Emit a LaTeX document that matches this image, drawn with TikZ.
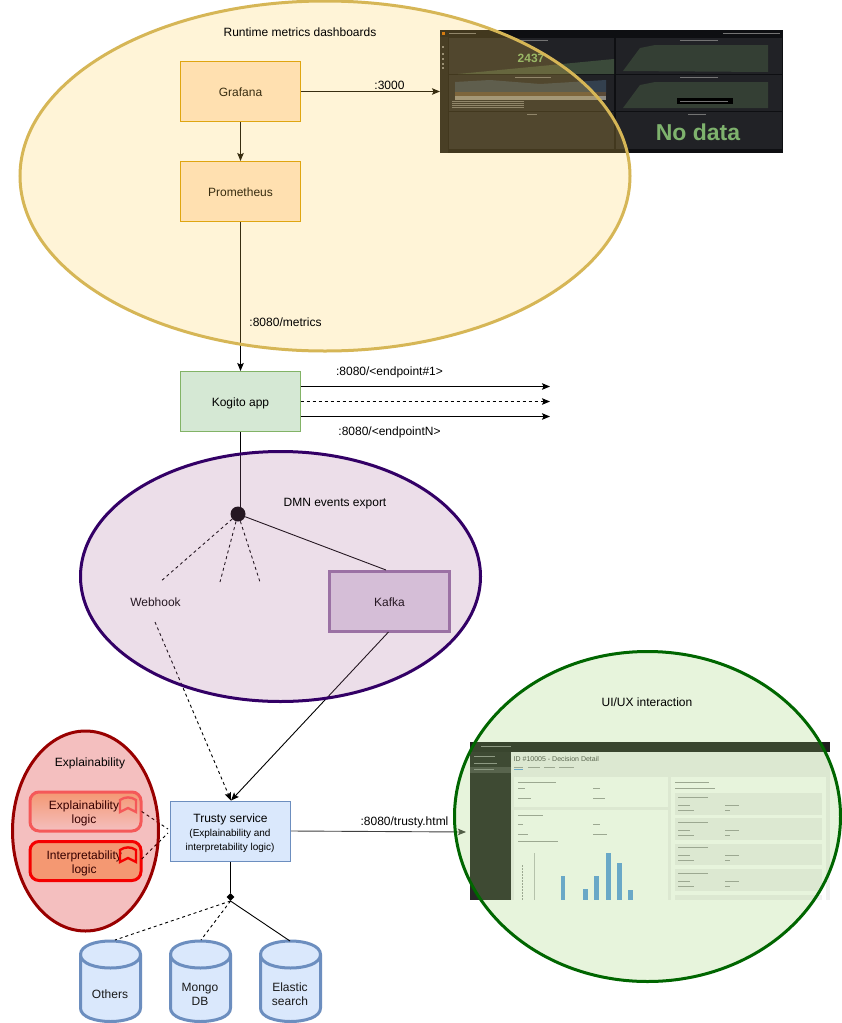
\documentclass[tikz,border=0pt]{standalone}
\usepackage{fontspec}
\setmainfont{Liberation Sans}
\usetikzlibrary{arrows.meta,shapes.geometric,calc}
\definecolor{yfill}{RGB}{255,205,77}
\definecolor{gfill}{RGB}{150,205,100}
\definecolor{pfill}{RGB}{173,109,159}
\definecolor{rfill}{RGB}{212,0,0}
\definecolor{ystroke}{HTML}{D6B656}
\definecolor{orbox}{HTML}{FFE6CC}
\definecolor{orline}{HTML}{D79B00}
\definecolor{grbox}{HTML}{D5E8D4}
\definecolor{grline}{HTML}{82B366}
\definecolor{blbox}{HTML}{DAE8FC}
\definecolor{blline}{HTML}{6C8EBF}
\definecolor{panelbg}{HTML}{212226}
\definecolor{dashbg}{HTML}{0E0F12}
\definecolor{datag}{HTML}{7EB26D}
\definecolor{purpline}{HTML}{330066}
\definecolor{kafbox}{HTML}{E1D5E7}
\definecolor{kafline}{HTML}{9673A6}
\definecolor{redline}{HTML}{990000}
\definecolor{greenline}{HTML}{006600}
\definecolor{softred}{HTML}{FF7878}
\definecolor{orA}{HTML}{FFCC99}
\definecolor{barblue}{HTML}{5E9EE4}
\definecolor{bandblue}{HTML}{33404E}
\definecolor{bandor}{HTML}{5A4A38}
\definecolor{bandlt}{HTML}{8C8A84}
\tikzset{
  lbl/.style={inner sep=0pt,font=\fontsize{12}{14}\selectfont,align=center,text=black},
  svcbox/.style={draw,line width=1pt,minimum width=120pt,minimum height=60pt,inner sep=0pt,font=\fontsize{12}{14}\selectfont,text height=10.5pt,text depth=1.5pt},
  conn/.style={line width=.9pt,draw=black},
  dsh/.style={conn,dash pattern=on 3pt off 3pt},
  arr/.style={-{Stealth[length=8pt,width=6.5pt,inset=1.5pt]}},
  logicbox/.style={rounded corners=9pt,line width=3pt,minimum width=111pt,minimum height=39pt,inner sep=0pt},
  storeshape/.style={draw=blline,fill=blbox,line width=3pt},
  tinyl/.style={line width=.8pt,draw=black!38},
  tinyd/.style={line width=.5pt,draw=black!55},
  book/.style={line width=2.4pt,line join=miter},
}
\begin{document}
\begin{tikzpicture}[x=1pt,y=-1pt]
\useasboundingbox (0,0) rectangle (842,1023);
\fill[white] (0,0) rectangle (842,1023);

% --- Grafana screenshot
\fill[dashbg] (440,30) rectangle (783,153);
\fill[panelbg!70!black] (440,37) rectangle (448,153);
\foreach \yy in {46,53,58,63,67}{\fill[black!50] (442,\yy) rectangle (444,\yy+1.6);}
\fill[orange!80!black] (442,31.5) rectangle (445,34.5);
\draw[tinyd] (449,33.5) -- (476,33.5);
\draw[tinyd] (723,33.5) -- (780,33.5);
\fill[panelbg] (449,38) rectangle (614,74);
\fill[panelbg] (616,38) rectangle (782,74);
\fill[panelbg] (449,75) rectangle (614,111);
\fill[panelbg] (616,75) rectangle (782,111);
\fill[panelbg] (449,112) rectangle (614,149);
\fill[panelbg] (616,112) rectangle (782,149);
\fill[datag!28!panelbg] (458,74) -- (614,59) -- (614,74) -- cycle;
\fill[datag!20!panelbg] (623,71) -- (640,48) -- (655,45) -- (768,45) -- (768,72) -- cycle;
\fill[datag!20!panelbg] (623,108) -- (640,85) -- (655,82) -- (768,82) -- (768,108) -- cycle;
\fill[bandblue] (455,82) -- (490,80) -- (540,84) -- (606,80) -- (606,93) -- (455,93) -- cycle;
\fill[bandor] (455,92) rectangle (606,96);
\fill[bandlt] (455,96) rectangle (606,100);
\foreach \yy in {101,103,105,107}{\draw[tinyd,line width=.4pt] (452,\yy) -- (524,\yy);}
\draw[tinyd,line width=.4pt] (520,40) -- (548,40);
\draw[tinyd,line width=.4pt] (680,40) -- (718,40);
\draw[tinyd,line width=.4pt] (515,77) -- (551,77);
\draw[tinyd,line width=.4pt] (680,77) -- (718,77);
\fill[black] (677,98) rectangle (733,104);
\draw[tinyd,line width=.4pt] (680,101) -- (728,101);
\draw[tinyd,line width=.4pt] (527,114) -- (537,114);
\draw[tinyd,line width=.4pt] (688,114) -- (706,114);
\node[inner sep=0pt,text=datag,font=\bfseries\fontsize{12}{14}\selectfont] (gauge) at (531,58) {2437};
\node[inner sep=0pt,text=datag,font=\bfseries\fontsize{23}{28}\selectfont] (nodata) at (698,132) {No data};

% --- UI screenshot
\fill[black!6] (470,752) rectangle (830,900);
\fill[black!88] (470,742) rectangle (830,752);
\fill[black!85] (470,752) rectangle (511,900);
\fill[black!72] (470,767) rectangle (511,773);
\fill[white] (514,777) rectangle (668,807);
\fill[white] (514,810) rectangle (668,900);
\fill[white] (671,777) rectangle (826,900);
\foreach \ya/\yb in {793/815,818/840,844/865,869/891,895/900}{\fill[black!6] (675,\ya) rectangle (822,\yb);}
\fill[barblue] (560.7,876) rectangle (565,900);
\fill[barblue] (583,889) rectangle (588,900);
\fill[barblue] (594,876) rectangle (599,900);
\fill[barblue] (606,853) rectangle (610.5,900);
\fill[barblue] (617,862.5) rectangle (622,900);
\fill[barblue] (628,890) rectangle (633,900);
\draw[black!25,line width=.6pt] (534,853) -- (534,900);
\node[inner sep=0pt,text=black!70,font=\fontsize{7}{8}\selectfont,anchor=west] (uititle) at (513.5,758.5) {ID \#10005 - Decision Detail};
\draw[tinyl] (514,767) -- (523,767);
\draw[tinyl] (528,767) -- (540,767) (544,767) -- (555,767) (559,767) -- (574,767);
\draw[barblue,line width=.6pt] (514,769.5) -- (523,769.5);
\foreach \x/\w/\y in {518/38/782, 518/7/788, 593/7/788, 518/13/798, 593/12/798, 518/25/815, 518/5/824, 593/7/824, 518/10/834, 593/14/834, 518/40/841, 675/34/782, 675/40/788}
  {\draw[tinyl] (\x,\y) -- ++(\w,0);}
\foreach \y in {797,822,847,873}{
  \draw[tinyl] (678,\y) -- ++(30,0);
  \draw[tinyl] (678,\y+8) -- ++(12,0);
  \draw[tinyl] (725,\y+8) -- ++(14,0);
  \draw[tinyl] (678,\y+13) -- ++(16,0);
  \draw[tinyl] (725,\y+13) -- ++(5,0);
}
\draw[tinyl,dash pattern=on 2pt off 1pt] (522,865) -- (522,900);
\draw[black!45,line width=.7pt] (474,756) -- (495,756) (474,763) -- (497,763) (474,769) -- (494,769);
\draw[black!45,line width=.7pt] (481,746.5) -- (511,746.5);

% --- nodes
\node[svcbox,draw=orline,fill=orbox] (grafana) at (240.5,91.5) {Grafana};
\node[svcbox,draw=orline,fill=orbox] (prometheus) at (240.5,191.5) {Prometheus};
\node[svcbox,draw=grline,fill=grbox] (kogito) at (240.5,401.5) {Kogito app};
\node[svcbox,draw=kafline,fill=kafbox,line width=3pt] (kafka) at (389.5,601.5) {Kafka};
\node[lbl] (webhook) at (155.5,602.5) {Webhook};
\node[circle,fill=black,minimum size=15pt,inner sep=0pt] (hub) at (238,514) {};
\node[svcbox,draw=blline,fill=blbox] (trusty) at (230.5,831) {};
\node[lbl] (trustyA) at (230.5,819) {Trusty service};
\node[lbl,font=\fontsize{10}{14}\selectfont] (trustyB) at (230,840.5) {(Explainability and\\interpretability logic)};
\node[diamond,fill=black,minimum size=8pt,inner sep=0pt] (split) at (230.5,897) {};
\node[logicbox,draw=softred,top color=orA,bottom color=white] (explain) at (85.5,811.5) {};
\node[logicbox,draw=red,fill=orA] (interp) at (85.5,861) {};
\node[lbl] (explainT) at (84,813) {Explainability\\logic};
\node[lbl] (interpT) at (84.2,863) {Interpretability\\logic};
\draw[softred,book] (120,800) .. controls (125,796.5) and (131,796.5) .. (136,800) -- (136,812) -- (128,808) -- (120,812) -- cycle;
\draw[red,book] (120,850) .. controls (125,846.5) and (131,846.5) .. (136,850) -- (136,862) -- (128,858) -- (120,862) -- cycle;

% --- data stores
\foreach \cx in {110.5,200.5,290.5}{
  \draw[storeshape] (\cx-30,954.5) -- (\cx-30,1008) .. controls (\cx-30,1026) and (\cx+30,1026) .. (\cx+30,1008) -- (\cx+30,954.5) .. controls (\cx+30,936.5) and (\cx-30,936.5) .. cycle;
  \draw[storeshape] (\cx-30,954.5) .. controls (\cx-30,972.5) and (\cx+30,972.5) .. (\cx+30,954.5);
}
\node[lbl,text=black!90] (othersT) at (110,994) {Others};
\node[lbl,text=black!90] (mongoT) at (200,994.5) {Mongo\\DB};
\node[lbl,text=black!90] (elasticT) at (290,994.5) {Elastic\\search};

% --- named free ends
\coordinate (shot1) at (440,91.5);
\coordinate (ep1) at (550,386.5);
\coordinate (ep2) at (550,401.5);
\coordinate (ep3) at (550,416.5);
\coordinate (k1) at (300.5,386.5);
\coordinate (k2) at (300.5,401.5);
\coordinate (k3) at (300.5,416.5);
\coordinate (hubTop) at (240.5,507);
\coordinate (wh1) at (160,582);
\coordinate (wh2) at (220,582);
\coordinate (wh3) at (260,582);
\coordinate (kafIn) at (386,570);
\coordinate (whOut) at (155,622);
\coordinate (kafOut) at (388.5,632);
\coordinate (trustIn) at (231,800.5);
\coordinate (trustL1) at (168,829);
\coordinate (trustL2) at (168,833);
\coordinate (exOut) at (141.7,811.5);
\coordinate (inOut) at (141.7,859);
\coordinate (uiIn) at (466,832);
\coordinate (splitOut) at (230.5,901);
\coordinate (othersIn) at (115,940);
\coordinate (mongoIn) at (201,940);
\coordinate (elasticIn) at (290,941);

% --- connectors
\draw[conn,arr] (grafana.east) -- (shot1);
\draw[conn,arr] (grafana.south) -- (prometheus.north);
\draw[conn,arr] (prometheus.south) -- (kogito.north);
\draw[conn,arr] (k1) -- (ep1);
\draw[dsh,arr] (k2) -- (ep2);
\draw[conn,arr] (k3) -- (ep3);
\draw[conn] (kogito.south) -- (hubTop);
\draw[dsh] (hub) -- (wh1);
\draw[dsh] (hub) -- (wh2);
\draw[dsh] (hub) -- (wh3);
\draw[conn] (hub) -- (kafIn);
\draw[dsh,arr] (whOut) -- (trustIn);
\draw[conn,arr] (kafOut) -- (trustIn);
\draw[conn,black!75,arr] (trusty.east) -- (uiIn);
\draw[conn] (trusty.south) -- (split.north);
\draw[dsh] (exOut) -- (trustL1);
\draw[dsh] (inOut) -- (trustL2);
\draw[dsh] (splitOut) -- (othersIn);
\draw[dsh] (splitOut) -- (mongoIn);
\draw[conn] (splitOut) -- (elasticIn);

% --- translucent ellipses over everything beneath them
\fill[yfill,opacity=.22] (325,176) ellipse [x radius=305,y radius=175];
\draw[ystroke,line width=3pt] (325,176) ellipse [x radius=305,y radius=175];
\fill[gfill,opacity=.22] (647.5,816.5) ellipse [x radius=193,y radius=165];
\draw[greenline,line width=3pt] (647.5,816.5) ellipse [x radius=193,y radius=165];
\fill[pfill,opacity=.22] (280.5,576.5) ellipse [x radius=200,y radius=125];
\draw[purpline,line width=3pt] (280.5,576.5) ellipse [x radius=200,y radius=125];
\fill[rfill,opacity=.25] (85.5,831) ellipse [x radius=73,y radius=100];
\draw[redline,line width=3pt] (85.5,831) ellipse [x radius=73,y radius=100];

% --- free labels
\node[lbl] (t1) at (300,32) {Runtime metrics dashboards};
\node[lbl] (t2) at (389.5,85.5) {:3000};
\node[lbl] (t3) at (285.5,322.5) {:8080/metrics};
\node[lbl] (t4) at (389.5,372.5) {:8080/<endpoint\#1>};
\node[lbl] (t5) at (389.5,432.5) {:8080/<endpointN>};
\node[lbl] (t6) at (335,503.5) {DMN events export};
\node[lbl] (t7) at (647,702.5) {UI/UX interaction};
\node[lbl] (t8) at (90,763) {Explainability};
\node[lbl] (t9) at (404.5,822.5) {:8080/trusty.html};
\end{tikzpicture}
\end{document}
